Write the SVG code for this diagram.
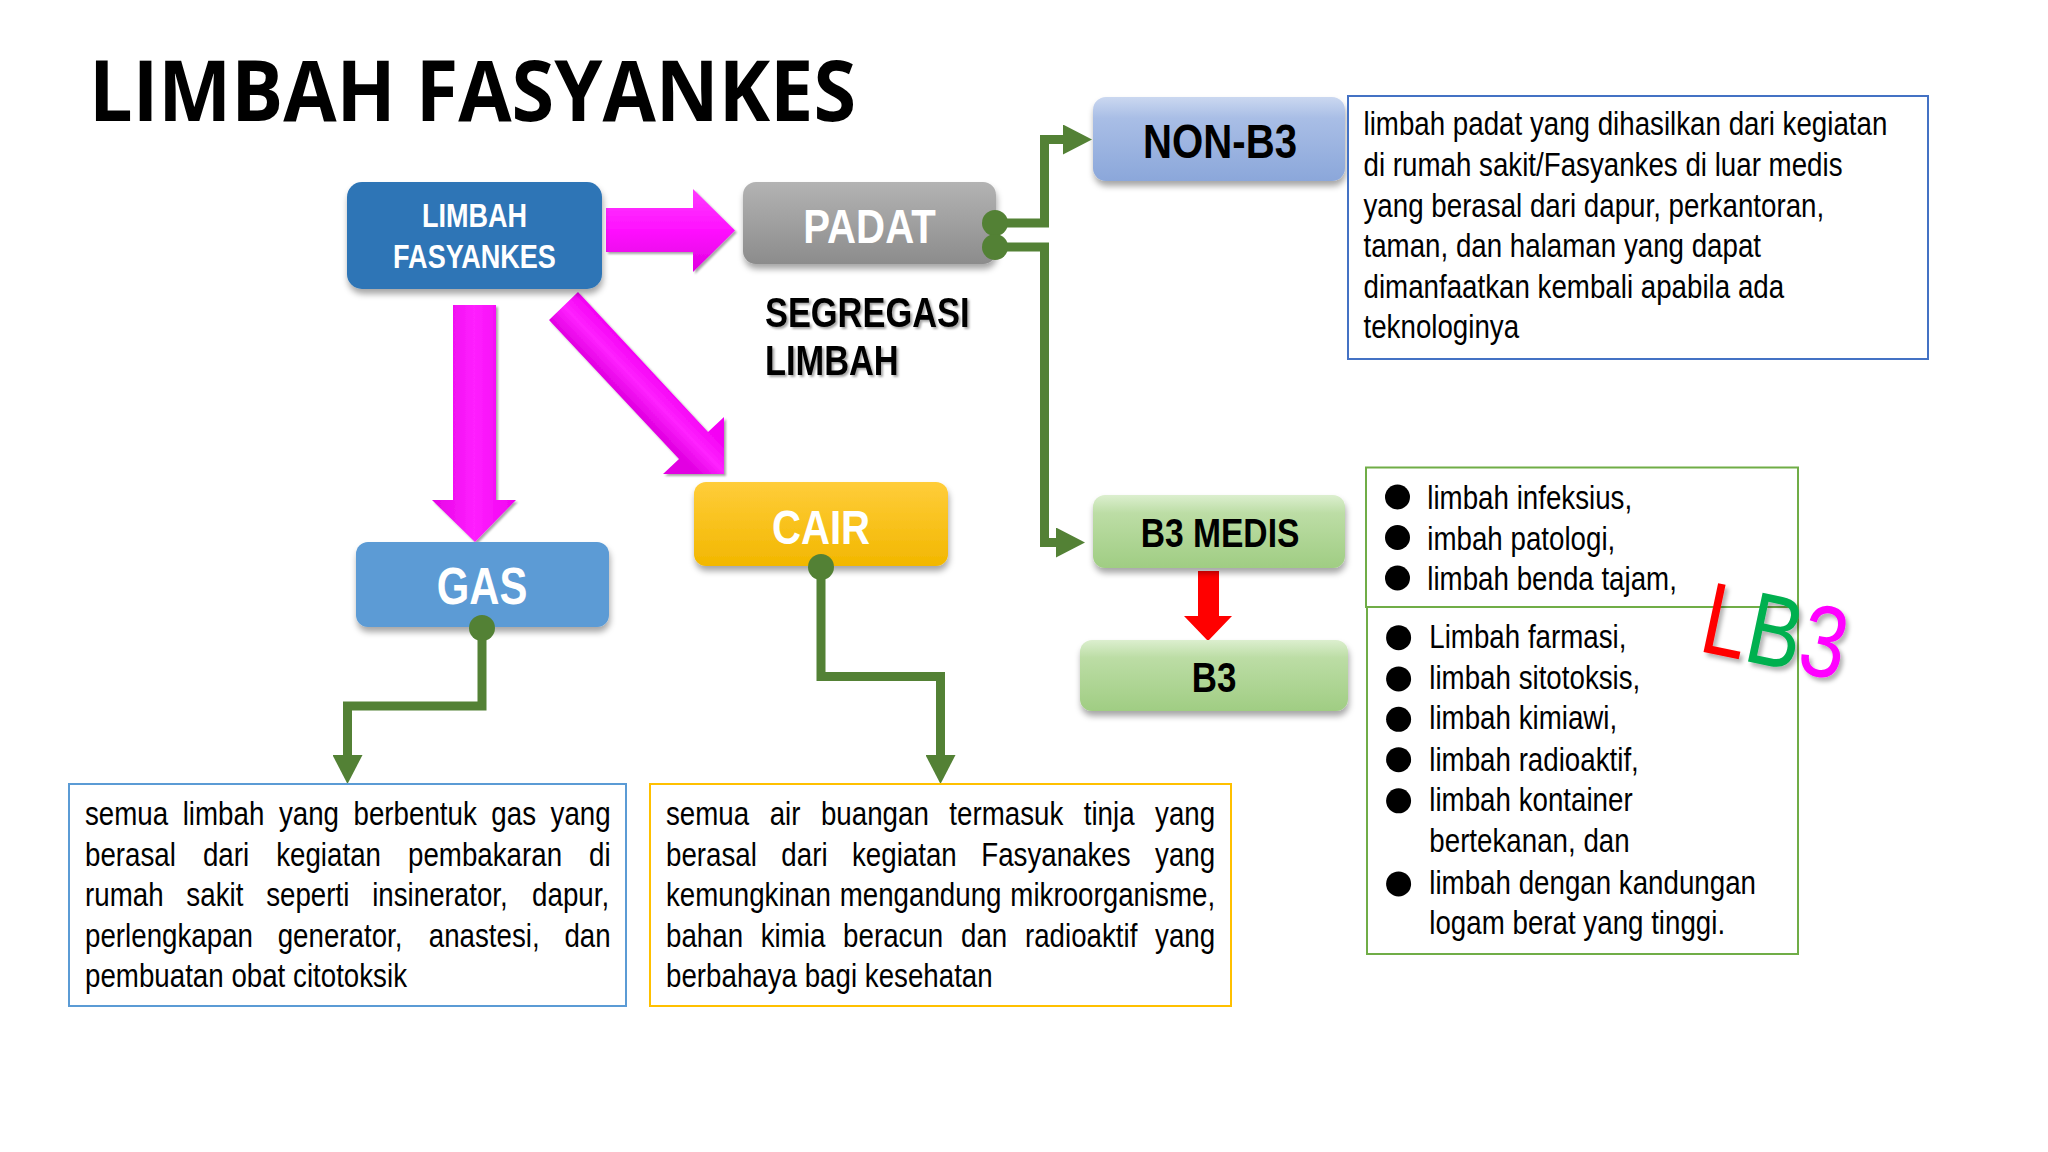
<svg xmlns="http://www.w3.org/2000/svg" width="2048" height="1152" viewBox="0 0 2048 1152">
<style>
.t{font-family:"Liberation Sans",Arial,sans-serif;font-size:33px;fill:#000}
.lb{font-family:"Liberation Sans",Arial,sans-serif;font-weight:bold;text-anchor:middle}
.sl{font-family:"Liberation Sans",Arial,sans-serif;font-weight:bold;font-size:43px;fill:#000}
.con{fill:none;stroke:#538135;stroke-width:9;stroke-linejoin:miter}
.dot{fill:#538135}
.desc{fill:#fff;stroke-width:2}
.bul{fill:#000}
</style>
<defs>
<filter id="sh" x="-10%" y="-10%" width="120%" height="140%">
<feDropShadow dx="1" dy="5" stdDeviation="3" flood-color="#000" flood-opacity="0.35"/>
</filter>
<filter id="tsh" x="-10%" y="-10%" width="130%" height="130%">
<feDropShadow dx="2" dy="2" stdDeviation="1.2" flood-color="#000" flood-opacity="0.35"/>
</filter>
<filter id="lsh" x="-20%" y="-20%" width="150%" height="150%">
<feDropShadow dx="3" dy="4" stdDeviation="2" flood-color="#000" flood-opacity="0.3"/>
</filter>
<linearGradient id="gGray" x1="0" y1="0" x2="0" y2="1">
<stop offset="0" stop-color="#b3b3b3"/><stop offset="1" stop-color="#8c8c8c"/>
</linearGradient>
<linearGradient id="gGold" x1="0" y1="0" x2="0" y2="1">
<stop offset="0" stop-color="#ffcd3a"/><stop offset="1" stop-color="#f2b700"/>
</linearGradient>
<linearGradient id="gLav" x1="0" y1="0" x2="0" y2="1">
<stop offset="0" stop-color="#cbd8f0"/><stop offset="0.25" stop-color="#a9bee6"/><stop offset="1" stop-color="#8ba7da"/>
</linearGradient>
<linearGradient id="gGrn" x1="0" y1="0" x2="0" y2="1">
<stop offset="0" stop-color="#dcefcf"/><stop offset="0.25" stop-color="#bcdda5"/><stop offset="1" stop-color="#a0cd83"/>
</linearGradient>
<linearGradient id="mH" x1="0" y1="0" x2="0" y2="1">
<stop offset="0" stop-color="#ff3cff"/><stop offset="0.5" stop-color="#ff10ff"/><stop offset="1" stop-color="#e000e0"/>
</linearGradient>
<linearGradient id="mV" x1="0" y1="0" x2="1" y2="0">
<stop offset="0" stop-color="#e400e4"/><stop offset="0.5" stop-color="#ff20ff"/><stop offset="1" stop-color="#f000f0"/>
</linearGradient>
<linearGradient id="mD" gradientUnits="userSpaceOnUse" x1="549" y1="320" x2="578" y2="292">
<stop offset="0" stop-color="#e200e2"/><stop offset="0.5" stop-color="#ff22ff"/><stop offset="1" stop-color="#f400f4"/>
</linearGradient>
<marker id="ga" markerUnits="userSpaceOnUse" markerWidth="30" markerHeight="30" viewBox="0 0 30 30" refX="0" refY="15" orient="auto">
<path d="M0,0 L29,15 L0,30 z" fill="#538135"/>
</marker>
</defs>
<rect width="2048" height="1152" fill="#fff"/>

<g id="title">
<text x="89" y="121" font-family="'Open Sans','Noto Sans',sans-serif" font-weight="bold" font-size="84" textLength="767" lengthAdjust="spacingAndGlyphs" fill="#000">LIMBAH FASYANKES</text>
</g>

<g id="big-arrows">
<polygon points="606,208 693,208 693,189 735,230.5 693,272 693,252 606,252" fill="url(#mH)" filter="url(#tsh)"/>
<polygon points="453,305 496,305 496,500 516,500 475,542 432,500 453,500" fill="url(#mV)" filter="url(#tsh)"/>
<polygon points="578,292 708,432 724,417 724,474 663,474 679,459 549,320" fill="url(#mD)" filter="url(#tsh)"/>
<polygon points="1198,571 1219,571 1219,616 1232,616 1208,641 1184,616 1198,616" fill="#ff0000"/>
</g>

<g id="node-limbah-fasyankes">
<rect x="347" y="182" width="255" height="107" rx="15" fill="#2e75b6" filter="url(#sh)"/>
<text class="lb" transform="translate(474.5,227) scale(0.82,1)" font-size="33" fill="#fff">LIMBAH</text>
<text class="lb" transform="translate(474.5,268) scale(0.82,1)" font-size="33" fill="#fff">FASYANKES</text>
</g>

<g id="node-padat">
<rect x="743" y="182" width="253" height="82" rx="13" fill="url(#gGray)" filter="url(#sh)"/>
<text class="lb" transform="translate(869.5,243) scale(0.82,1)" font-size="49" fill="#fff">PADAT</text>
</g>

<g id="label-segregasi" filter="url(#tsh)">
<text class="sl" transform="translate(765,327) scale(0.8,1)">SEGREGASI</text>
<text class="sl" transform="translate(765,375) scale(0.8,1)">LIMBAH</text>
</g>

<g id="node-gas">
<rect x="356" y="542" width="253" height="85" rx="12" fill="#5b9bd5" filter="url(#sh)"/>
<text class="lb" transform="translate(482,603.5) scale(0.82,1)" font-size="51" fill="#fff">GAS</text>
</g>

<g id="node-cair">
<rect x="694" y="482" width="254" height="84" rx="12" fill="url(#gGold)" filter="url(#sh)"/>
<text class="lb" transform="translate(821,543.5) scale(0.82,1)" font-size="49" fill="#fff">CAIR</text>
</g>

<g id="node-non-b3">
<rect x="1093" y="97" width="252" height="84" rx="13" fill="url(#gLav)" filter="url(#sh)"/>
<text class="lb" transform="translate(1220,158) scale(0.82,1)" font-size="49" fill="#000">NON-B3</text>
</g>

<g id="node-b3-medis">
<rect x="1093" y="495" width="252" height="73" rx="12" fill="url(#gGrn)" filter="url(#sh)"/>
<text class="lb" transform="translate(1220,547.4) scale(0.82,1)" font-size="41" fill="#000">B3 MEDIS</text>
</g>

<g id="node-b3">
<rect x="1080" y="640" width="268" height="71" rx="12" fill="url(#gGrn)" filter="url(#sh)"/>
<text class="lb" transform="translate(1214,691.7) scale(0.82,1)" font-size="42.6" fill="#000">B3</text>
</g>

<g id="connectors">
<path class="con" d="M482,628 V706 H347.5 V755" marker-end="url(#ga)"/>
<path class="con" d="M821,567 V676.5 H940.5 V755" marker-end="url(#ga)"/>
<path class="con" d="M995,223 H1044.5 V139.5 H1063" marker-end="url(#ga)"/>
<path class="con" d="M995,247 H1044.5 V542.5 H1056" marker-end="url(#ga)"/>
<circle class="dot" cx="482" cy="628" r="13"/>
<circle class="dot" cx="821" cy="567" r="13"/>
<circle class="dot" cx="995" cy="223" r="13"/>
<circle class="dot" cx="995" cy="247" r="13"/>
</g>

<g id="desc-non-b3">
<rect class="desc" x="1348" y="96" width="580" height="263" stroke="#4472c4"/>
<text class="t" transform="translate(1363.5,135) scale(0.84,1)">limbah padat yang dihasilkan dari kegiatan</text>
<text class="t" transform="translate(1363.5,176) scale(0.84,1)">di rumah sakit/Fasyankes di luar medis</text>
<text class="t" transform="translate(1363.5,217) scale(0.84,1)">yang berasal dari dapur, perkantoran,</text>
<text class="t" transform="translate(1363.5,257) scale(0.84,1)">taman, dan halaman yang dapat</text>
<text class="t" transform="translate(1363.5,298) scale(0.84,1)">dimanfaatkan kembali apabila ada</text>
<text class="t" transform="translate(1363.5,338) scale(0.84,1)">teknologinya</text>
</g>

<g id="list-b3-medis">
<rect class="desc" x="1366" y="467.5" width="432" height="139.5" stroke="#70ad47"/>
<circle class="bul" cx="1397.5" cy="497" r="12.5"/>
<circle class="bul" cx="1397.5" cy="537.5" r="12.5"/>
<circle class="bul" cx="1397.5" cy="578" r="12.5"/>
<text class="t" transform="translate(1427.3,509) scale(0.84,1)">limbah infeksius,</text>
<text class="t" transform="translate(1427.3,550) scale(0.84,1)">imbah patologi,</text>
<text class="t" transform="translate(1427.3,590) scale(0.84,1)">limbah benda tajam,</text>
</g>

<g id="list-b3">
<rect class="desc" x="1367" y="607" width="431" height="347" stroke="#70ad47"/>
<circle class="bul" cx="1398.6" cy="637.7" r="12.5"/>
<circle class="bul" cx="1398.6" cy="678.9" r="12.5"/>
<circle class="bul" cx="1398.6" cy="719.3" r="12.5"/>
<circle class="bul" cx="1398.6" cy="759.7" r="12.5"/>
<circle class="bul" cx="1398.6" cy="800.8" r="12.5"/>
<circle class="bul" cx="1398.6" cy="883.9" r="12.5"/>
<text class="t" transform="translate(1429.3,648.3) scale(0.84,1)">Limbah farmasi,</text>
<text class="t" transform="translate(1429.3,689.3) scale(0.84,1)">limbah sitotoksis,</text>
<text class="t" transform="translate(1429.3,729.3) scale(0.84,1)">limbah kimiawi,</text>
<text class="t" transform="translate(1429.3,770.7) scale(0.84,1)">limbah radioaktif,</text>
<text class="t" transform="translate(1429.3,811) scale(0.84,1)">limbah kontainer</text>
<text class="t" transform="translate(1429.3,851.5) scale(0.84,1)">bertekanan, dan</text>
<text class="t" transform="translate(1429.3,894) scale(0.84,1)">limbah dengan kandungan</text>
<text class="t" transform="translate(1429.3,934) scale(0.84,1)">logam berat yang tinggi.</text>
</g>

<g id="label-lb3" filter="url(#lsh)">
<text transform="translate(1697,650.5) rotate(12) scale(0.8,1)" font-family="'Liberation Sans',Arial,sans-serif" font-size="102"><tspan fill="#ff0000">L</tspan><tspan fill="#00b050">B</tspan><tspan fill="#ff00ff">3</tspan></text>
</g>

<g id="desc-gas">
<rect class="desc" x="69" y="784" width="557" height="222" stroke="#5b9bd5"/>
<text class="t" transform="translate(85,825) scale(0.84,1)"><tspan x="0">semua</tspan><tspan x="116.34">limbah</tspan><tspan x="230.84">yang</tspan><tspan x="319.69">berbentuk</tspan><tspan x="483.75">gas</tspan><tspan x="554.26">yang</tspan></text>
<text class="t" transform="translate(85,866) scale(0.84,1)"><tspan x="0">berasal</tspan><tspan x="140.4">dari</tspan><tspan x="227.6">kegiatan</tspan><tspan x="384.53">pembakaran</tspan><tspan x="600.13">di</tspan></text>
<text class="t" transform="translate(85,906) scale(0.84,1)"><tspan x="0">rumah</tspan><tspan x="120.68">sakit</tspan><tspan x="215.69">seperti</tspan><tspan x="341.88">insinerator,</tspan><tspan x="532.26">dapur,</tspan></text>
<text class="t" transform="translate(85,947) scale(0.84,1)"><tspan x="0">perlengkapan</tspan><tspan x="229.39">generator,</tspan><tspan x="409.24">anastesi,</tspan><tspan x="570.75">dan</tspan></text>
<text class="t" transform="translate(85,987) scale(0.84,1)">pembuatan obat citotoksik</text>
</g>

<g id="desc-cair">
<rect class="desc" x="650" y="784" width="581" height="222" stroke="#ffc000"/>
<text class="t" transform="translate(666,825) scale(0.84,1)"><tspan x="0">semua</tspan><tspan x="123.41">air</tspan><tspan x="184.45">buangan</tspan><tspan x="337.27">termasuk</tspan><tspan x="497.35">tinja</tspan><tspan x="582.25">yang</tspan></text>
<text class="t" transform="translate(666,866) scale(0.84,1)"><tspan x="0">berasal</tspan><tspan x="137.31">dari</tspan><tspan x="221.42">kegiatan</tspan><tspan x="375.26">Fasyanakes</tspan><tspan x="582.26">yang</tspan></text>
<text class="t" transform="translate(666,906) scale(0.84,1)"><tspan x="0">kemungkinan</tspan><tspan x="206.78">mengandung</tspan><tspan x="409.93">mikroorganisme,</tspan></text>
<text class="t" transform="translate(666,947) scale(0.84,1)"><tspan x="0">bahan</tspan><tspan x="112.81">kimia</tspan><tspan x="210.87">beracun</tspan><tspan x="351.17">dan</tspan><tspan x="427.28">radioaktif</tspan><tspan x="582.23">yang</tspan></text>
<text class="t" transform="translate(666,987) scale(0.84,1)">berbahaya bagi kesehatan</text>
</g>
</svg>
